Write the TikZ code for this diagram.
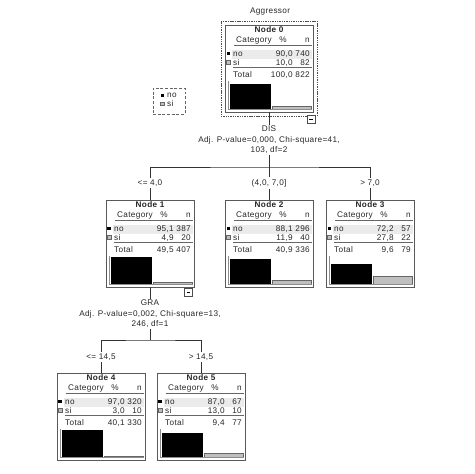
\documentclass[tikz,border=0pt]{standalone}
\usepackage{fontspec}
\setmainfont{Liberation Sans}[LetterSpace=4]
\usetikzlibrary{fit}

\newcommand{\pct}[1]{\pgfmathprintnumber[fixed,fixed zerofill,precision=1,use comma,assume math mode=true]{#1}}
% #1 node number, #2 x, #3 top, #4/#5 no, #6/#7 si, #8/#9 total
\newcommand{\catnode}[9]{%
  \node[catbox] (n#1) at (#2,#3) {};
  \begin{scope}[shift={(n#1.north west)}]
    \path[rowgray] (7,24.5) rectangle (87,33.5);
    \node[celltitle] (n#1-title) at (44,5.5) {Node #1};
    \node[cell,anchor=west] (n#1-cat) at (11,15) {Category};
    \node[cell,anchor=east] (n#1-pcth) at (62,15) {\%};
    \node[cell,anchor=east] (n#1-nh) at (85,15) {n};
    \draw[rowline] (9,20.5) -- (87,20.5);
    \fill[black] (1.5,26.5) rectangle (5,30);
    \node[cell,anchor=west] (n#1-no) at (8,29) {no};
    \node[cell,anchor=east] (n#1-pno) at (68,29) {\pct{#4}};
    \node[cell,anchor=east] (n#1-nno) at (85,29) {#5};
    \filldraw[bargray] (1.5,35.5) rectangle (5,39);
    \node[cell,anchor=west] (n#1-si) at (8,38) {si};
    \node[cell,anchor=east] (n#1-psi) at (68,38) {\pct{#6}};
    \node[cell,anchor=east] (n#1-nsi) at (85,38) {#7};
    \draw[rowline] (8,42) -- (87,42);
    \node[cell,anchor=west] (n#1-tot) at (8,50) {Total};
    \node[cell,anchor=east] (n#1-ptot) at (68,50) {\pct{#8}};
    \node[cell,anchor=east] (n#1-ntot) at (85,50) {#9};
    \fill[black] (5,84) rectangle (46,{84-0.28*#4});
    \filldraw[bargray] (47,84) rectangle (86,{84-0.28*#6});
    \draw[chartaxis] (3.5,56) -- (3.5,84.5) -- (87,84.5);
  \end{scope}}

\begin{document}
\begin{tikzpicture}[x=0.03cm,y=-0.03cm,
  font=\fontsize{7}{9}\selectfont,
  catbox/.style={draw=black!65,line width=0.6pt,minimum width=2.64cm,minimum height=2.61cm,anchor=north,inner sep=0pt,outer sep=0pt},
  cell/.style={inner sep=0pt,text=black!85,text height=5pt,text depth=1.4pt},
  celltitle/.style={cell,font=\fontsize{7}{9}\selectfont\bfseries},
  rowline/.style={draw=black!60,line width=0.5pt},
  rowgray/.style={fill=black!8},
  bargray/.style={fill=black!25,draw=black!60,line width=0.5pt},
  chartaxis/.style={draw=black!45,line width=0.5pt},
  splitinfo/.style={align=center,inner sep=1pt,text=black!85},
  condlabel/.style={inner sep=1.5pt,text=black!85},
  link/.style={draw=black!80,line width=0.5pt},
  dotbox/.style={draw=black!70,line width=0.7pt,dash pattern=on 1.2pt off 0.8pt,inner sep=0.12cm},
  legendbox/.style={draw=black!60,line width=0.6pt,dash pattern=on 2.5pt off 1.5pt,minimum width=0.96cm,minimum height=0.78cm},
  minusbox/.style={draw=black!70,fill=white,line width=0.5pt,minimum size=0.24cm,inner sep=0pt,anchor=north east}]
\useasboundingbox (0,0) rectangle (474,474);

\node[cell] (title) at (270,11) {Aggressor};

% tree nodes
\catnode{0}{269}{25}{90.0}{740}{10.0}{82}{100.0}{822}
\catnode{1}{150}{200}{95.1}{387}{4.9}{20}{49.5}{407}
\catnode{2}{269}{200}{88.1}{296}{11.9}{40}{40.9}{336}
\catnode{3}{370}{200}{72.2}{57}{27.8}{22}{9.6}{79}
\catnode{4}{101}{373}{97.0}{320}{3.0}{10}{40.1}{330}
\catnode{5}{201}{373}{87.0}{67}{13.0}{10}{9.4}{77}

\node[dotbox,fit=(n0)] (n0-frame) {};
\node[minusbox] (n0-minus) at ([shift={(-2,-1)}]n0-frame.south east) {\rule[0.7pt]{3pt}{0.5pt}};
\node[minusbox] (n1-minus) at ([shift={(-1,1)}]n1.south east) {\rule[0.7pt]{3pt}{0.5pt}};

% legend
\node[legendbox] (legend) at (169,101) {};
\fill[black] (160.5,93.5) rectangle (164,97);
\node[cell,anchor=west] (legend-no) at (167,95.5) {no};
\filldraw[bargray] (160.5,102) rectangle (164,105.5);
\node[cell,anchor=west] (legend-si) at (167,104) {si};

% first split
\node[splitinfo] (dis) at (269,140) {DIS\\Adj. P-value=0,000, Chi-square=41,\\103, df=2};
\coordinate (j0) at (269,167);
\node[condlabel] (c1) at (150,183) {<= 4,0};
\node[condlabel] (c2) at (269,183) {(4,0, 7,0]};
\node[condlabel] (c3) at (370,183) {> 7,0};
\draw[link] (n0) -- (dis);
\draw[link] (dis) -- (j0);
\draw[link] (c1) |- (j0) -| (c3);
\draw[link] (j0) -- (c2);
\draw[link] (c1) -- (n1);
\draw[link] (c2) -- (n2);
\draw[link] (c3) -- (n3);

% second split
\node[splitinfo] (gra) at (150,314) {GRA\\Adj. P-value=0,002, Chi-square=13,\\246, df=1};
\coordinate (j1) at (150,340);
\node[condlabel] (c4) at (101,357) {<= 14,5};
\node[condlabel] (c5) at (201,357) {> 14,5};
\draw[link] (n1) -- (gra);
\draw[link] (gra) -- (j1);
\draw[link] (c4) |- (j1) -| (c5);
\draw[link] (c4) -- (n4);
\draw[link] (c5) -- (n5);
\end{tikzpicture}
\end{document}
